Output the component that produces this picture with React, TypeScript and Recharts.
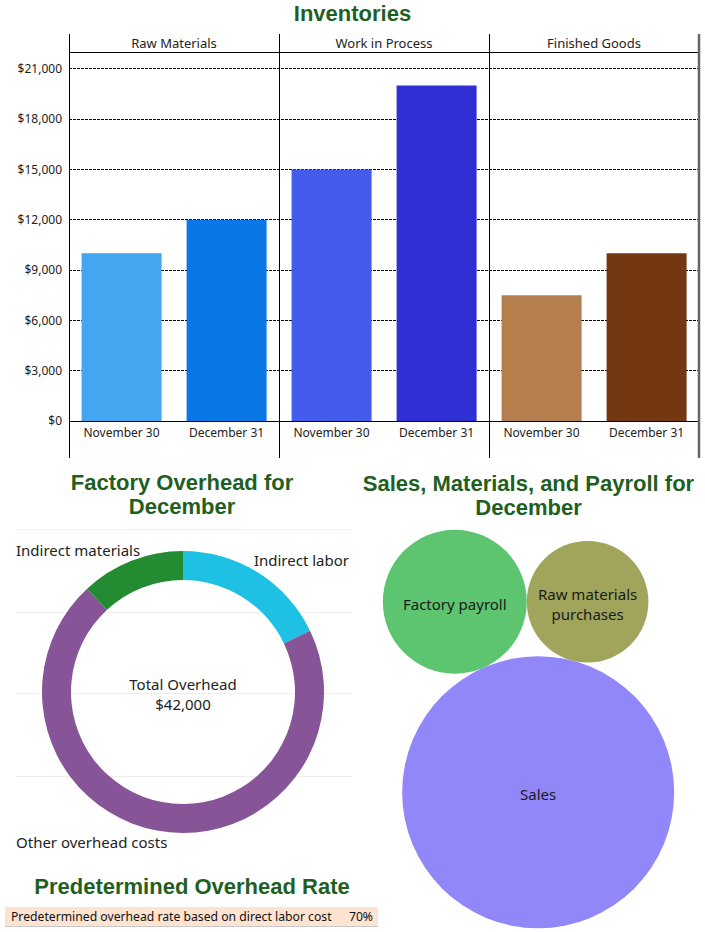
import React from "react";
import {
  BarChart,
  Bar,
  XAxis,
  YAxis,
  CartesianGrid,
  Cell,
  PieChart,
  Pie,
  Label,
  ScatterChart,
  Scatter,
  ZAxis,
} from "recharts";

// inventories
const PANELS = ["Raw Materials", "Work in Process", "Finished Goods"];
const PERIODS = ["November 30", "December 31"];
const INVENTORY_NOV = [10000, 15000, 7500];
const INVENTORY_DEC = [12000, 20000, 10000];
const Y_TICKS = [0, 3000, 6000, 9000, 12000, 15000, 18000, 21000];
const BAR_COLORS = ["#42A6F0", "#0A77E6", "#445CEC", "#2F2FD3", "#B57E4D", "#733812"];

// factory overhead
const OVERHEAD_NAMES = ["Indirect labor", "Other overhead costs", "Indirect materials"];
const OVERHEAD_VALUES = [7500, 29500, 5000];
const OVERHEAD_COLORS = ["#1EC0E4", "#875497", "#238B32"];

// sales, materials, payroll
const BUBBLE_NAMES = ["Factory payroll", "Raw materials purchases", "Sales"];
const BUBBLE_VALUES = [28000, 20000, 100000];
const BUBBLE_COLORS = ["#5DC46F", "#A0A55B", "#9287F9"];

const RATE_LABEL = "Predetermined overhead rate based on direct labor cost";
const RATE_VALUE = "70%";

const GREEN = "#1F5F1F";
const TEXT = "#222";
const FONT = '"Noto Sans", sans-serif';

// bar chart layout
const BAR_W = 705;
const BAR_H = 460;
const FRAME_TOP = 34;
const HEADER_H = 18;
const Y_AXIS_W = 69;
const RIGHT_M = 6;
const X_AXIS_H = 39;
const PANEL_W = (BAR_W - Y_AXIS_W - RIGHT_M) / PANELS.length;
const FRAME_BOTTOM = 458;

const barData = PANELS.flatMap((panel, i) =>
  PERIODS.map((period, j) => ({
    key: `${i}-${j}`,
    panel,
    period,
    value: j === 0 ? INVENTORY_NOV[i] : INVENTORY_DEC[i],
  }))
);

const money = (v: number) => "$" + v.toLocaleString("en-US");

const PanelTick = (props: any) => {
  const { x, payload, index } = props;
  const half = PANEL_W / 2;
  const left = Math.round(x - half) + 0.5;
  const right = Math.round(x + half);
  return (
    <g>
      <line x1={left} x2={left} y1={FRAME_TOP} y2={FRAME_BOTTOM} stroke="#000" shapeRendering="crispEdges" />
      {index === PANELS.length - 1 && (
        <line x1={right} x2={right} y1={FRAME_TOP} y2={FRAME_BOTTOM} stroke="#666" strokeWidth={2.5} />
      )}
      <text
        x={x}
        y={FRAME_TOP + HEADER_H / 2}
        textAnchor="middle"
        dominantBaseline="central"
        fontSize={13}
        fill={TEXT}
      >
        {payload.value}
      </text>
    </g>
  );
};

// pie layout
const PIE_W = 366;
const PIE_H = 345;
const PIE_TOP = 520;
const PIE_CX = 183;
const PIE_CY = 172;
const OUTER_R = 141;
const INNER_R = 112;

const overheadData = OVERHEAD_NAMES.map((name, i) => ({ name, value: OVERHEAD_VALUES[i] }));
const totalOverhead = OVERHEAD_VALUES.reduce((a, b) => a + b, 0);

const RADIAN = Math.PI / 180;
const renderPieLabel = (props: any) => {
  const { cy, midAngle, outerRadius, name } = props;
  const right = Math.cos(midAngle * RADIAN) >= 0;
  const y = cy - Math.sin(midAngle * RADIAN) * (outerRadius + 12);
  return (
    <text
      x={right ? PIE_W - 17 : 16}
      y={right ? y - 2 : y}
      textAnchor={right ? "end" : "start"}
      dominantBaseline="central"
      fontSize={15}
      fill={TEXT}
    >
      {name}
    </text>
  );
};

// bubble layout
const BUB_LEFT = 352;
const BUB_TOP = 528;
const BUB_W = 353;
const BUB_H = 402;
const R_MAX = 136;
const maxBubble = Math.max(...BUBBLE_VALUES);
const radiusOf = (v: number) => R_MAX * Math.sqrt(v / maxBubble);

// largest circle at the bottom, the other two resting on it and touching each other
const bubbleData = (() => {
  const [rp, rm, rs] = BUBBLE_VALUES.map(radiusOf);
  const a = rs + rp;
  const b = rs + rm;
  const c = rp + rm;
  const x1 = (c + (a * a - b * b) / c) / 2;
  const x2 = c - x1;
  const h = Math.sqrt(a * a - x1 * x1);
  const pts = [
    { x: -x1, y: -h, r: rp },
    { x: x2, y: -h, r: rm },
    { x: 0, y: 0, r: rs },
  ];
  const minX = Math.min(...pts.map((p) => p.x - p.r));
  const maxX = Math.max(...pts.map((p) => p.x + p.r));
  const minY = Math.min(...pts.map((p) => p.y - p.r));
  const maxY = Math.max(...pts.map((p) => p.y + p.r));
  const dx = BUB_W / 2 - (minX + maxX) / 2;
  const dy = BUB_H / 2 - (minY + maxY) / 2;
  return pts.map((p, i) => ({
    name: BUBBLE_NAMES[i],
    value: BUBBLE_VALUES[i],
    x: p.x + dx,
    y: p.y + dy,
  }));
})();

let measureCtx: CanvasRenderingContext2D | null = null;
const textWidth = (s: string, px: number) => {
  if (!measureCtx) measureCtx = document.createElement("canvas").getContext("2d");
  if (!measureCtx) return s.length * px * 0.55;
  measureCtx.font = `${px}px ${FONT}`;
  return measureCtx.measureText(s).width;
};

const wrapWords = (s: string, maxW: number, px: number) => {
  const lines: string[] = [];
  let cur = "";
  s.split(" ").forEach((w) => {
    const next = cur ? cur + " " + w : w;
    if (cur && textWidth(next, px) > maxW) {
      lines.push(cur);
      cur = w;
    } else cur = next;
  });
  if (cur) lines.push(cur);
  return lines;
};

const BubbleShape = (props: any) => {
  const { cx, cy, fill, payload } = props;
  const r = props.width ? props.width / 2 : Math.sqrt((props.size || 0) / Math.PI);
  const lines = wrapWords(payload.name, r * 1.8, 15);
  return (
    <g>
      <circle cx={cx} cy={cy} r={r} fill={fill} />
      <text textAnchor="middle" dominantBaseline="central" fontSize={15} fill="#1a1a1a">
        {lines.map((l, i) => (
          <tspan key={i} x={cx} y={cy + 2 + (i - (lines.length - 1) / 2) * 20}>
            {l}
          </tspan>
        ))}
      </text>
    </g>
  );
};

const titleStyle = (left: number, top: number, width: number): React.CSSProperties => ({
  position: "absolute",
  left,
  top,
  width,
  textAlign: "center",
  font: 'bold 22px "Liberation Sans", Arial, sans-serif',
  lineHeight: "24px",
  color: GREEN,
  whiteSpace: "nowrap",
});

const GRID_YS = [529, 612, 693, 776];

export default function App() {
  return (
    <div
      style={{
        position: "absolute",
        left: 0,
        top: 0,
        width: 705,
        height: 932,
        background: "#fff",
        fontFamily: FONT,
        overflow: "hidden",
      }}
    >
      <div style={titleStyle(0, 2, 705)}>Inventories</div>

      <div style={{ position: "absolute", left: 0, top: 0 }}>
        <BarChart
          width={BAR_W}
          height={BAR_H}
          data={barData}
          margin={{ top: FRAME_TOP, right: RIGHT_M, left: 0, bottom: 0 }}
          barCategoryGap="12%"
        >
          <CartesianGrid vertical={false} stroke="#000" strokeDasharray="3 1" shapeRendering="crispEdges" />
          <XAxis
            xAxisId="panel"
            orientation="top"
            dataKey="panel"
            allowDuplicatedCategory={false}
            height={HEADER_H}
            tickLine={false}
            axisLine={{ stroke: "#000", shapeRendering: "crispEdges" }}
            tick={(p: any) => <PanelTick {...p} />}
            interval={0}
          />
          <XAxis
            dataKey="key"
            height={X_AXIS_H}
            tickFormatter={(k: string) => barData.find((d) => d.key === k)?.period ?? ""}
            tickLine={false}
            tickSize={0}
            tickMargin={7}
            axisLine={{ stroke: "#000", shapeRendering: "crispEdges" }}
            tick={{ fontSize: 12, fill: TEXT }}
            interval={0}
          />
          <YAxis
            width={Y_AXIS_W}
            domain={[0, 22000]}
            ticks={Y_TICKS}
            interval={0}
            tickFormatter={money}
            axisLine={false}
            tickLine={false}
            tickSize={0}
            tickMargin={7}
            tick={{ fontSize: 12, fill: TEXT }}
          />
          <Bar dataKey="value" isAnimationActive={false}>
            {barData.map((d, i) => (
              <Cell key={d.key} fill={BAR_COLORS[i]} />
            ))}
          </Bar>
        </BarChart>
      </div>

      <div style={titleStyle(0, 471, 364)}>
        <div>Factory Overhead for</div>
        <div>December</div>
      </div>

      {GRID_YS.map((y) => (
        <div
          key={y}
          style={{ position: "absolute", left: 16, top: y, width: 336, height: 1, background: "#EEEEEE" }}
        />
      ))}

      <div style={{ position: "absolute", left: 0, top: PIE_TOP }}>
        <PieChart width={PIE_W} height={PIE_H} margin={{ top: 0, right: 0, bottom: 0, left: 0 }}>
          <Pie
            data={overheadData}
            dataKey="value"
            nameKey="name"
            cx={PIE_CX}
            cy={PIE_CY}
            innerRadius={INNER_R}
            outerRadius={OUTER_R}
            startAngle={90}
            endAngle={-270}
            stroke="none"
            label={renderPieLabel}
            labelLine={false}
            isAnimationActive={false}
          >
            {overheadData.map((d, i) => (
              <Cell key={d.name} fill={OVERHEAD_COLORS[i]} />
            ))}
            <Label
              position="center"
              content={(p: any) => {
                const vb = p.viewBox || {};
                const cx = vb.cx ?? PIE_CX;
                const cy = vb.cy ?? PIE_CY;
                return (
                  <g>
                    <text x={cx} y={cy - 8} textAnchor="middle" dominantBaseline="central" fontSize={15} fill={TEXT}>
                      Total Overhead
                    </text>
                    <text x={cx} y={cy + 12} textAnchor="middle" dominantBaseline="central" fontSize={15} fill={TEXT}>
                      {money(totalOverhead)}
                    </text>
                  </g>
                );
              }}
            />
          </Pie>
        </PieChart>
      </div>

      <div style={titleStyle(BUB_LEFT, 472, BUB_W)}>
        <div>Sales, Materials, and Payroll for</div>
        <div>December</div>
      </div>

      <div style={{ position: "absolute", left: BUB_LEFT, top: BUB_TOP }}>
        <ScatterChart width={BUB_W} height={BUB_H} margin={{ top: 0, right: 0, bottom: 0, left: 0 }}>
          <XAxis type="number" dataKey="x" domain={[0, BUB_W]} hide />
          <YAxis type="number" dataKey="y" domain={[0, BUB_H]} reversed hide />
          <ZAxis type="number" dataKey="value" domain={[0, maxBubble]} range={[0, Math.PI * R_MAX * R_MAX]} />
          <Scatter data={bubbleData} shape={(p: any) => <BubbleShape {...p} />} isAnimationActive={false}>
            {bubbleData.map((d, i) => (
              <Cell key={d.name} fill={BUBBLE_COLORS[i]} />
            ))}
          </Scatter>
        </ScatterChart>
      </div>

      <div style={titleStyle(0, 875, 384)}>Predetermined Overhead Rate</div>
      <div
        style={{
          position: "absolute",
          left: 5,
          top: 907,
          width: 373,
          height: 20,
          boxSizing: "border-box",
          background: "#FCE4D1",
          borderBottom: "1px solid #C8C8C8",
          display: "flex",
          justifyContent: "space-between",
          alignItems: "center",
          padding: "0 5px 0 6px",
          fontSize: 12.2,
          color: "#111",
        }}
      >
        <span>{RATE_LABEL}</span>
        <span>{RATE_VALUE}</span>
      </div>
    </div>
  );
}
